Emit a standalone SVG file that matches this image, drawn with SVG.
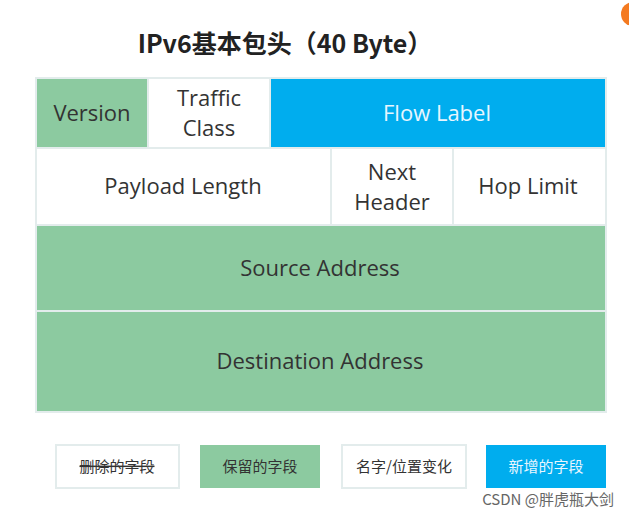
<svg xmlns="http://www.w3.org/2000/svg" width="629" height="518" viewBox="0 0 629 518">
<style>
.g{fill:#8ccaa0}.b{fill:#00adee}.w{fill:#ffffff}
.c{stroke:#e3ecec;stroke-width:2}
.t{font-family:"Open Sans","Noto Sans",sans-serif;font-size:22px;fill:#333;text-anchor:middle}
.l{font-family:"Noto Sans CJK SC",sans-serif;font-size:15px;fill:#333;text-anchor:middle}
</style>
<rect width="629" height="518" fill="#fff"/>
<circle cx="633" cy="14" r="12" fill="#f47a20"/>
<text x="285" y="53" font-family="Noto Sans CJK SC,sans-serif" font-weight="bold" font-size="25" fill="#222" text-anchor="middle">IPv6基本包头（40 Byte）</text>
<g id="version"><rect class="g c" x="36" y="78" width="112" height="70"/><text class="t" x="92" y="121">Version</text></g>
<g id="traffic"><rect class="w c" x="148" y="78" width="122" height="70"/><text class="t" x="209" y="106">Traffic</text><text class="t" x="209" y="136">Class</text></g>
<g id="flow"><rect class="b c" x="270" y="78" width="336" height="70"/><text class="t" x="437" y="121" fill="#e8f6ff" style="fill:#e8f6ff">Flow Label</text></g>
<g id="payload"><rect class="w c" x="36" y="148" width="295" height="77"/><text class="t" x="183" y="194">Payload Length</text></g>
<g id="next"><rect class="w c" x="331" y="148" width="122" height="77"/><text class="t" x="392" y="180">Next</text><text class="t" x="392" y="210">Header</text></g>
<g id="hop"><rect class="w c" x="453" y="148" width="153" height="77"/><text class="t" x="528" y="194">Hop Limit</text></g>
<g id="src"><rect class="g c" x="36" y="225" width="570" height="86"/><text class="t" x="320" y="276">Source Address</text></g>
<g id="dst"><rect class="g c" x="36" y="311" width="570" height="101"/><text class="t" x="320" y="369">Destination Address</text></g>
<g id="connectors"></g>
<g id="leg1"><rect class="w c" x="56" y="445" width="123" height="43"/><text class="l" x="117" y="472" text-decoration="line-through">删除的字段</text></g>
<g id="leg2"><rect class="g" x="200" y="445" width="120" height="43"/><text class="l" x="260" y="472">保留的字段</text></g>
<g id="leg3"><rect class="w c" x="342" y="445" width="124" height="43"/><text class="l" x="404" y="472">名字/位置变化</text></g>
<g id="leg4"><rect class="b" x="486" y="445" width="120" height="43"/><text class="l" x="546" y="472" style="fill:#e8f6ff">新增的字段</text></g>
<text x="614" y="505" font-family="Noto Sans CJK SC,sans-serif" font-size="15" fill="#666" text-anchor="end">CSDN @胖虎瓶大剑</text>
</svg>
